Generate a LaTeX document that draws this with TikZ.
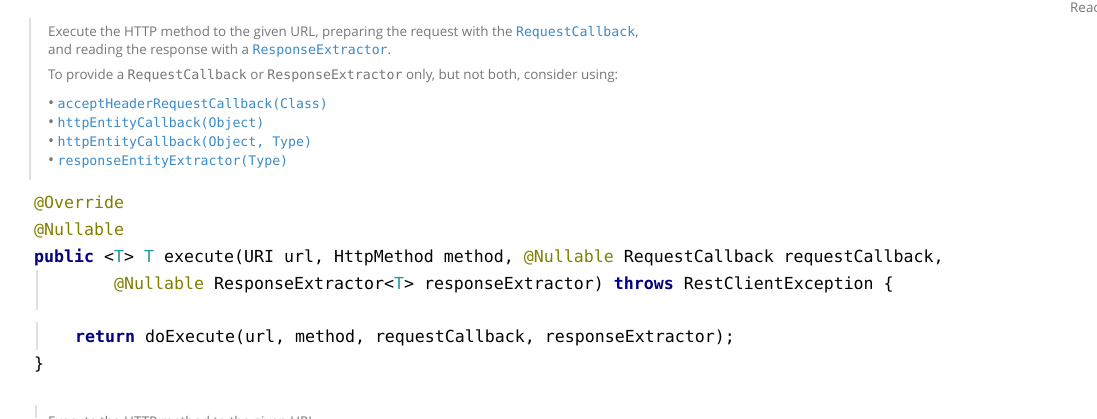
\documentclass[tikz,border=0pt]{standalone}
\usepackage{fontspec}
\setmainfont{Open Sans}
\setmonofont{DejaVu Sans Mono}
\begin{document}
\begin{tikzpicture}[x=1pt,y=-1pt,
  doc/.style={anchor=base west,inner sep=0pt,text=docgray,font=\fontsize{13.4}{15}\selectfont},
  code/.style={anchor=base west,inner sep=0pt,font=\fontsize{16.6}{18}\ttfamily},
  guide/.style={draw=black!12,line width=1.2pt}]
\definecolor{docgray}{HTML}{777777}
\definecolor{lnk}{HTML}{3C8BCB}
\definecolor{ann}{HTML}{808000}
\definecolor{kw}{HTML}{000080}
\definecolor{tp}{HTML}{20999D}
\newcommand{\lk}[1]{{\color{lnk}\fontsize{13.2}{14}\ttfamily #1}}
\newcommand{\mg}[1]{{\fontsize{13.2}{14}\ttfamily #1}}
\newcommand{\bul}{{\fontsize{16}{14}\selectfont\textbullet}\ }
\useasboundingbox[fill=white] (0,0) rectangle (1097,418);
\draw[guide] (30,18) -- (30,180);
\draw[guide] (36,405) -- (36,418);
\node[doc] (reac) at (1070,12) {Reac};
\node[doc] (d1) at (48,36) {Execute the HTTP method to the given URL, preparing the request with the \lk{RequestCallback},};
\node[doc] (d2) at (48,54) {and reading the response with a \lk{ResponseExtractor}.};
\node[doc] (d3) at (48,79) {To provide a \mg{RequestCallback} or \mg{ResponseExtractor} only, but not both, consider using:};
\node[doc] (b1) at (48,108) {\bul\lk{acceptHeaderRequestCallback(Class)}};
\node[doc] (b2) at (48,127) {\bul\lk{httpEntityCallback(Object)}};
\node[doc] (b3) at (48,146) {\bul\lk{httpEntityCallback(Object, Type)}};
\node[doc] (b4) at (48,165) {\bul\lk{responseEntityExtractor(Type)}};
\node[code,text=ann] (c1) at (34,208) {@Override};
\node[code,text=ann] (c2) at (34,235) {@Nullable};
\node[code] (c3) at (34,262) {\textbf{\color{kw}public} <{\color{tp}T}> {\color{tp}T} execute(URI url, HttpMethod method, {\color{ann}@Nullable} RequestCallback requestCallback,};
\draw[guide] (37,270) -- (37,310);
\draw[guide] (37,322) -- (37,350);
\node[code] (c4) at (114,289) {{\color{ann}@Nullable} ResponseExtractor<{\color{tp}T}> responseExtractor) \textbf{\color{kw}throws} RestClientException \{};
\node[code] (c5) at (75,342) {\textbf{\color{kw}return} doExecute(url, method, requestCallback, responseExtractor);};
\node[code] (c6) at (34,369) {\}};
\begin{scope}
\clip (0,405) rectangle (1097,418);
\node[doc] (d9) at (48,426) {Execute the HTTP method to the given URI.};
\end{scope}
\end{tikzpicture}
\end{document}
